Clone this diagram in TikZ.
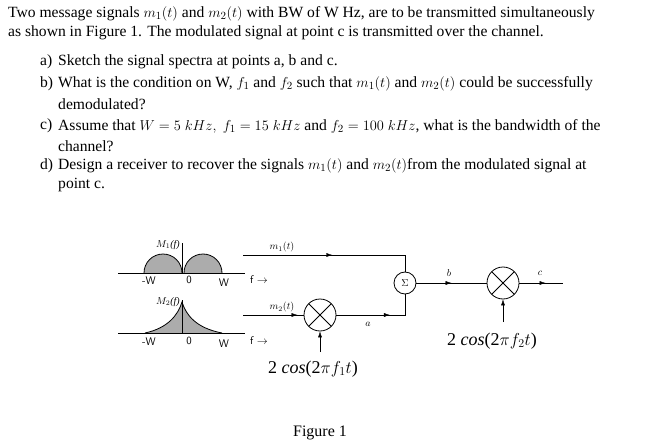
\documentclass[tikz,border=0pt]{standalone}
\usepackage{fontspec}
\setmainfont{Liberation Serif}
\usetikzlibrary{decorations.markings,arrows.meta}
\begin{document}
\begin{tikzpicture}[x=1pt,y=-1pt,
  txt/.style={anchor=west,inner sep=0pt,font=\fontsize{15.6}{18}\selectfont},
  small/.style={inner sep=0pt,font=\fontsize{10}{11}\selectfont\itshape},
  ax/.style={inner sep=0pt,font=\sffamily\fontsize{11}{12}\selectfont},
  mix/.style={circle,draw,thick,minimum size=32pt,inner sep=0pt,path picture={\draw[thick] (path picture bounding box.north west)--(path picture bounding box.south east) (path picture bounding box.south west)--(path picture bounding box.north east);}},
  sumn/.style={circle,draw,thick,minimum size=22pt,inner sep=0pt},
  midarrow/.style={decoration={markings,mark=at position #1 with {\arrow{Latex[length=6pt,width=4pt]}}},postaction=decorate},
  line/.style={thick}]
\useasboundingbox (0,0) rectangle (654,444);
\node[txt] (t1) at (8,14) {Two message signals $m_1(t)$ and $m_2(t)$ with BW of W Hz, are to be transmitted simultaneously};
\node[txt] (t2) at (8,33) {as shown in Figure 1. The modulated signal at point c is transmitted over the channel.};
\node[txt] (la) at (40,62) {a)}; \node[txt] (ta) at (58,62) {Sketch the signal spectra at points a, b and c.};
\node[txt] (lb) at (40,84) {b)}; \node[txt] (tb) at (58,84) {What is the condition on W, $f_1$ and $f_2$ such that $m_1(t)$ and $m_2(t)$ could be successfully};
\node[txt] (tb2) at (58,104) {demodulated?};
\node[txt] (lc) at (40,126) {c)}; \node[txt] (tc) at (58,126) {Assume that $W=5\ kHz,\ f_1=15\ kHz$ and $f_2=100\ kHz$, what is the bandwidth of the};
\node[txt] (tc2) at (58,146) {channel?};
\node[txt] (ld) at (40,166) {d)}; \node[txt] (td) at (58,166) {Design a receiver to recover the signals $m_1(t)$ and $m_2(t)$from the modulated signal at};
\node[txt] (td2) at (58,185) {point c.};
% spectrum 1
\fill[gray!65] (144,273) arc[start angle=180,end angle=0,x radius=19,y radius=-19] -- cycle;
\fill[gray!65] (184,273) arc[start angle=180,end angle=0,x radius=19,y radius=-19] -- cycle;
\draw[line] (144,273) arc[start angle=180,end angle=0,x radius=19,y radius=-19];
\draw[line] (184,273) arc[start angle=180,end angle=0,x radius=19,y radius=-19];
\draw (118,273) -- (245,273);
\draw (182,243) -- (182,273);
\node[small,anchor=east] (M1) at (180,245) {$M_1$(f)};
\node[ax] (w1a) at (149,281) {-W};
\node[ax] (w1b) at (189,280) {0};
\node[ax] (w1c) at (224,283) {W};
\node[ax] (f1) at (259,280) {f $\to$};
% spectrum 2
\fill[gray!65] (145,333) .. controls (168,328) and (178,315) .. (182,302) .. controls (186,315) and (196,328) .. (222,333) -- cycle;
\draw[line] (145,333) .. controls (168,328) and (178,315) .. (182,302) .. controls (186,315) and (196,328) .. (222,333);
\draw (118,333) -- (245,333);
\draw (182,300) -- (182,333);
\node[small,anchor=east] (M2) at (180,302) {$M_2$(f)};
\node[ax] (w2a) at (149,342) {-W};
\node[ax] (w2b) at (189,341) {0};
\node[ax] (w2c) at (224,344) {W};
\node[ax] (f2) at (259,341) {f $\to$};
% blocks
\coordinate (s1) at (243,255);
\coordinate (s2) at (243,315);
\node[sumn] (sum) at (405,283) {$\Sigma$};
\node[mix] (x1) at (320,315) {};
\node[mix] (x2) at (503,283) {};
\coordinate (out) at (563,283);
\coordinate (in1) at (320,352);
\coordinate (in2) at (503,322);
\draw[midarrow=0.5] (s1) -- (405,255) -- (sum.north);
\draw[midarrow=0.9] (s2) -- (x1.west);
\draw[midarrow=0.6] (x1.east) -- (405,315) -- (sum.south);
\draw[midarrow=0.5] (sum.east) -- (x2.west);
\draw[midarrow=0.6] (x2.east) -- (out);
\draw[-{Latex[length=6pt,width=4pt]}] (in1) -- (x1.south);
\draw[-{Latex[length=6pt,width=4pt]}] (in2) -- (x2.south);
\node[small] (m1l) at (282,247) {$m_1(t)$};
\node[small] (m2l) at (282,307) {$m_2(t)$};
\node[small] (al) at (368,324) {$a$};
\node[small] (bl) at (449,273) {$b$};
\node[small] (cl) at (540,273) {$c$};
\node[inner sep=0pt,font=\fontsize{18}{20}\selectfont] (c1) at (313,369) {2 \textit{cos}(2$\pi f_1 t$)};
\node[inner sep=0pt,font=\fontsize{18}{20}\selectfont] (c2) at (492,341) {2 \textit{cos}(2$\pi f_2 t$)};
\node[inner sep=0pt,font=\fontsize{16}{18}\selectfont] (fig) at (320,433) {Figure 1};
\end{tikzpicture}
\end{document}
